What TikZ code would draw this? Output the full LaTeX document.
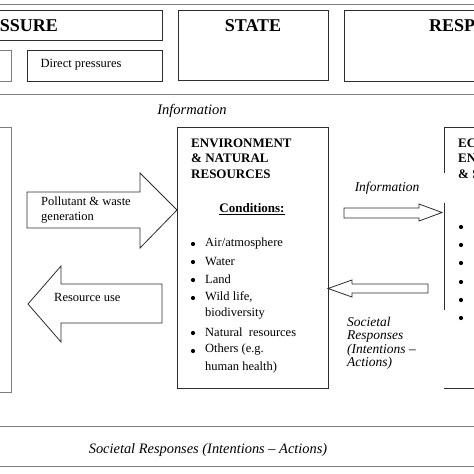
\documentclass[tikz,border=0pt]{standalone}
\usepackage{fontspec}
\setmainfont{Liberation Serif}
\definecolor{rulegray}{RGB}{125,125,125}
\definecolor{boxline}{RGB}{45,45,45}

\begin{document}
\begin{tikzpicture}[x=1pt, y=-1pt,
    box/.style={draw=boxline, line width=0.9pt},
    softbox/.style={draw=rulegray, line width=0.9pt},
    blockarrow/.style={draw=boxline, line width=0.8pt, fill=white, line join=miter},
    dotmark/.style={circle, fill=black, inner sep=0pt, minimum size=4.2pt},
    heading/.style={font=\fontsize{18}{20}\selectfont\bfseries, inner sep=0pt},
    boldtxt/.style={font=\fontsize{13}{15.5}\selectfont\bfseries, inner sep=0pt, align=left},
    bodytxt/.style={font=\fontsize{12.5}{15}\selectfont, inner sep=0pt, align=left},
    italtxt/.style={font=\fontsize{13.5}{13.5}\selectfont\itshape, inner sep=0pt, align=left}]
    \useasboundingbox (0,0) rectangle (474,474);
    \clip (0,0) rectangle (474,474);

    % Frame rules
    \foreach \yy in {4,94,426,466}
        \draw[rulegray, line width=1pt] (-5,\yy) -- (480,\yy);

    % Header boxes
    \draw[box] (-140,10) rectangle (162,40);
    \draw[softbox] (-60,50) rectangle (11,81);
    \draw[box] (27,50) rectangle (162,81);
    \draw[box] (178,10) rectangle (328,80);
    \draw[box] (344,10) rectangle (620,81);
    \node[heading, anchor=east] (pressure) at (58,26) {PRESSURE};
    \node[heading] (state) at (253,26) {STATE};
    \node[heading, anchor=west] (response) at (429,26) {RESPONSE};
    \node[bodytxt] (direct) at (81,65) {Direct pressures};

    % Main boxes
    \draw[softbox] (-100,127) rectangle (11,392);
    \draw[box] (177,127) rectangle (328,388);
    \draw[box] (444,173) -- (444,127) -- (480,127);
    \draw[box] (444,203) -- (444,310);
    \draw[box] (444,388) -- (480,388);

    % Environment box contents
    \node[boldtxt, anchor=west] (envhead) at (191,158.5) {ENVIRONMENT\\\& NATURAL\\RESOURCES};
    \node[boldtxt] (cond) at (252,209) {\underline{Conditions:}};
    \foreach \yy/\b/\txt in {243/1/{Air/atmosphere}, 261/1/Water, 279/1/Land,
        297/1/{Wild life,}, 314/0/biodiversity, 332/1/{Natural\ \ resources},
        350/1/{Others (e.g.}, 367/0/{human health)}} {
        \ifnum\b=1 \node[dotmark] at (193,\yy+1) {}; \fi
        \node[bodytxt, anchor=west] at (205,\yy) {\txt};
    }

    % Right box contents
    \node[boldtxt, anchor=west] (ecohead) at (458,158.5) {EC\\EN\\\& S};
    \foreach \yy in {227,245,263,282,300,318}
        \node[dotmark] at (461,\yy) {};

    % Block arrows
    \draw[blockarrow] (27,192) -- (140,192) -- (140,173) -- (177,210)
        -- (140,248) -- (140,228) -- (27,228) -- cycle;
    \node[bodytxt, anchor=west] (pollut) at (41,210.5) {Pollutant \& waste\\generation};
    \draw[blockarrow] (162,284) -- (61,284) -- (61,266) -- (28,304)
        -- (61,342) -- (61,323) -- (162,323) -- cycle;
    \node[bodytxt, anchor=west] (resuse) at (54,297) {Resource use};
    \draw[blockarrow] (344,208) -- (419,208) -- (419,204) -- (442,212.5)
        -- (419,221) -- (419,218) -- (344,218) -- cycle;
    \draw[blockarrow] (428,284) -- (352,284) -- (352,280) -- (328,288.5)
        -- (352,297) -- (352,293) -- (428,293) -- cycle;

    % Labels
    \node[italtxt, font=\fontsize{14.5}{14.5}\selectfont\itshape] (infotop) at (192,111) {Information};
    \node[italtxt] (inforight) at (387,188) {Information};
    \node[italtxt, anchor=west] (respright) at (347,343) {Societal\\Responses\\(Intentions --\\Actions)};
    \node[italtxt, font=\fontsize{14.4}{14.4}\selectfont\itshape] (respbottom) at (208,450)
        {Societal Responses (Intentions -- Actions)};
\end{tikzpicture}
\end{document}
